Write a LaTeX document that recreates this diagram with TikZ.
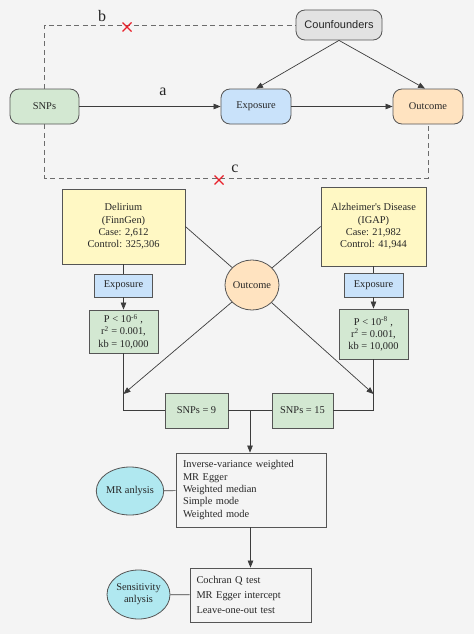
\documentclass[tikz,border=0pt]{standalone}
\usepackage{fontspec}
\setmainfont{Liberation Serif}
\newfontfamily\confont{Liberation Sans}
\usetikzlibrary{arrows.meta,shapes.geometric}
\definecolor{bgc}{HTML}{F4F4F4}
\definecolor{linec}{HTML}{3C3C3C}
\definecolor{bordc}{HTML}{555555}
\definecolor{yel}{HTML}{FFF8C4}
\definecolor{blu}{HTML}{C9E2FA}
\definecolor{grn}{HTML}{D3E8D2}
\definecolor{org}{HTML}{FFE3C0}
\definecolor{cyn}{HTML}{B0E8F0}
\definecolor{gry}{HTML}{E2E2E2}
\definecolor{redx}{HTML}{E8202A}
\tikzset{
  txt/.style={font=\fontsize{10.4}{12.3}\selectfont, text=black!85},
  rbox/.style={txt, draw=bordc, line width=0.8pt, rounded corners=9pt, inner sep=0pt, align=center},
  sbox/.style={txt, draw=bordc, line width=0.8pt, inner sep=0pt, align=center},
  ell/.style={txt, ellipse, draw=bordc, line width=0.8pt, inner sep=0pt, align=center},
  conn/.style={draw=linec, line width=0.7pt},
  arr/.style={conn, -{Triangle[length=7pt,width=5.5pt]}},
  dsh/.style={draw=gray!85!black, line width=0.8pt, dash pattern=on 5pt off 3.5pt},
  lab/.style={font=\fontsize{16}{16}\selectfont, text=black!85, inner sep=0pt},
  xmark/.style={draw=redx, line width=1.3pt}
}
\begin{document}
\begin{tikzpicture}[x=1pt,y=-1pt]
\fill[bgc] (0,0) rectangle (474,634);
\useasboundingbox (0,0) rectangle (474,634);
% top
\node[rbox, fill=grn, minimum width=69pt, minimum height=35pt] (snps) at (44.5,106.5) {SNPs};
\node[rbox, fill=blu, minimum width=70pt, minimum height=35pt] (exp) at (256,106.5) {Exposure};
\node[rbox, fill=org, minimum width=70pt, minimum height=35pt] (out) at (428,106.5) {Outcome};
\node[rbox, fill=gry, minimum width=86pt, minimum height=30pt, font=\confont\fontsize{11}{13}\selectfont] (conf) at (339,25) {Counfounders};
\draw[arr] (snps) -- (exp);
\draw[arr] (exp) -- (out);
\draw[arr] (conf.south) -- (exp.north);
\draw[arr] (conf.south) -- ([xshift=-3pt]out.north);
\draw[dsh] (snps.north) |- (conf.west);
\coordinate (cl) at (44.5,178);
\coordinate (cr) at (428,178);
\draw[dsh] (snps.south) -- (cl) -- (cr) -- (out.south);
\node[lab] (la) at (163,92) {a};
\node[lab] (lb) at (102,16) {b};
\node[lab] (lc) at (235,169) {c};
\coordinate (x1) at (127,27);
\coordinate (x2) at (219,180);
\draw[xmark] ([shift={(-4.5,-4.5)}]x1) -- ([shift={(4.5,4.5)}]x1) ([shift={(-4.5,4.5)}]x1) -- ([shift={(4.5,-4.5)}]x1);
\draw[xmark] ([shift={(-4.5,-4.5)}]x2) -- ([shift={(4.5,4.5)}]x2) ([shift={(-4.5,4.5)}]x2) -- ([shift={(4.5,-4.5)}]x2);
% middle
\node[sbox, fill=yel, minimum width=123pt, minimum height=75pt] (del) at (123.5,226.5) {Delirium\\(FinnGen)\\Case: 2,612\\Control: 325,306};
\node[sbox, fill=yel, minimum width=105pt, minimum height=79pt] (alz) at (373.5,226.5) {Alzheimer\textquotesingle s Disease\\(IGAP)\\Case: 21,982\\Control: 41,944};
\node[sbox, fill=blu, minimum width=58pt, minimum height=23pt] (exp1) at (123.5,285.5) {Exposure};
\node[sbox, fill=blu, minimum width=59pt, minimum height=24pt] (exp2) at (373.5,285) {Exposure};
\node[sbox, fill=grn, minimum width=69pt, minimum height=43pt] (g1) at (123.5,331.5) {P {\char"3C} 10\textsuperscript{-6} ,\\r\textsuperscript{2} = 0.001,\\kb = 10,000};
\node[sbox, fill=grn, minimum width=69pt, minimum height=50pt] (g2) at (373.5,334) {P {\char"3C} 10\textsuperscript{-8} ,\\r\textsuperscript{2} = 0.001,\\kb = 10,000};
\node[ell, fill=org, minimum width=54pt, minimum height=50pt] (oc) at (252,285) {Outcome};
\draw[conn] (del) -- (exp1);
\draw[arr] (exp1) -- (g1);
\draw[conn] (alz) -- (exp2);
\draw[arr] (exp2) -- (g2);
\draw[conn] (oc) -- (del.east);
\draw[conn] (oc) -- (alz.west);
\node[sbox, fill=grn, minimum width=63pt, minimum height=35pt] (s9) at (196.5,410.5) {SNPs = 9};
\node[sbox, fill=grn, minimum width=61pt, minimum height=35pt] (s15) at (302.5,410.5) {SNPs = 15};
\coordinate (tl) at (123.5,394);
\coordinate (tr) at (373.5,394);
\coordinate (j) at (250,410.5);
\draw[arr] (oc) -- (tl);
\draw[arr] (oc) -- (tr);
\draw[conn] (g1.south) |- (s9.west);
\draw[conn] (g2.south) |- (s15.east);
\draw[conn] (s9.east) -- (s15.west);
% bottom
\node[sbox, fill=bgc, minimum width=150pt, minimum height=74pt, text width=136pt, align=left] (meth) at (251,490) {Inverse-variance weighted\\MR Egger\\Weighted median\\Simple mode\\Weighted mode};
\draw[arr] (j) -- (j |- meth.north);
\node[ell, fill=cyn, minimum width=62pt, minimum height=48pt] (mr) at (130,491) {MR anlysis};
\draw[conn] (mr) -- (meth);
\node[sbox, fill=bgc, minimum width=121pt, minimum height=54pt, text width=108pt, align=left, font=\fontsize{10.4}{15}\selectfont] (sens) at (250.5,595) {Cochran Q test\\MR Egger intercept\\Leave-one-out test};
\draw[arr] (meth.south -| sens.north) -- (sens.north);
\node[ell, fill=cyn, minimum width=63pt, minimum height=49pt] (sa) at (138.5,594.5) {Sensitivity\\anlysis};
\draw[conn] (sa) -- (sens);
\end{tikzpicture}
\end{document}
